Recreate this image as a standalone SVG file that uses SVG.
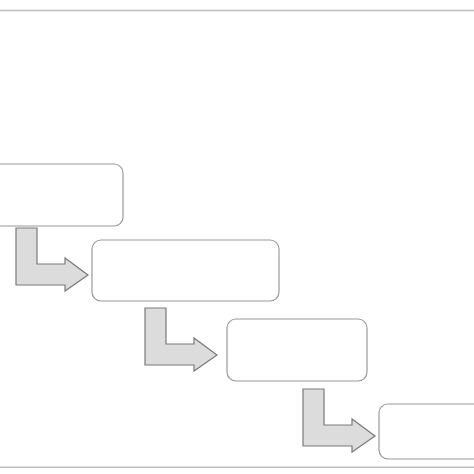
<svg xmlns="http://www.w3.org/2000/svg" width="474" height="474" viewBox="0 0 474 474">
<style>
.rule{stroke:#bdbdbd;stroke-width:1.5;fill:none}
.box{fill:#ffffff;stroke:#9a9a9a;stroke-width:1.2}
.arr{fill:#dcdcdc;stroke:#7a7a7a;stroke-width:1.2;stroke-linejoin:miter}
</style>
<defs>
<path id="bent" d="M0,0 H21 V36 H49 V30 L72,47 L49,63 V57 H0 Z"/>
</defs>
<rect width="474" height="474" fill="#ffffff"/>
<line class="rule" x1="0" y1="10.5" x2="474" y2="10.5"/>
<line class="rule" x1="0" y1="467.3" x2="474" y2="467.3"/>
<g id="node1"><rect class="box" x="-10" y="164" width="133" height="62" rx="9"/></g>
<g id="node2"><rect class="box" x="92" y="240" width="187" height="61" rx="9"/></g>
<g id="node3"><rect class="box" x="227" y="319" width="140" height="62" rx="9"/></g>
<g id="node4"><rect class="box" x="379" y="404" width="110" height="55" rx="9"/></g>
<g id="connectors">
<use href="#bent" class="arr" x="16" y="228"/>
<use href="#bent" class="arr" x="145" y="308"/>
<use href="#bent" class="arr" x="303" y="389"/>
</g>
</svg>
